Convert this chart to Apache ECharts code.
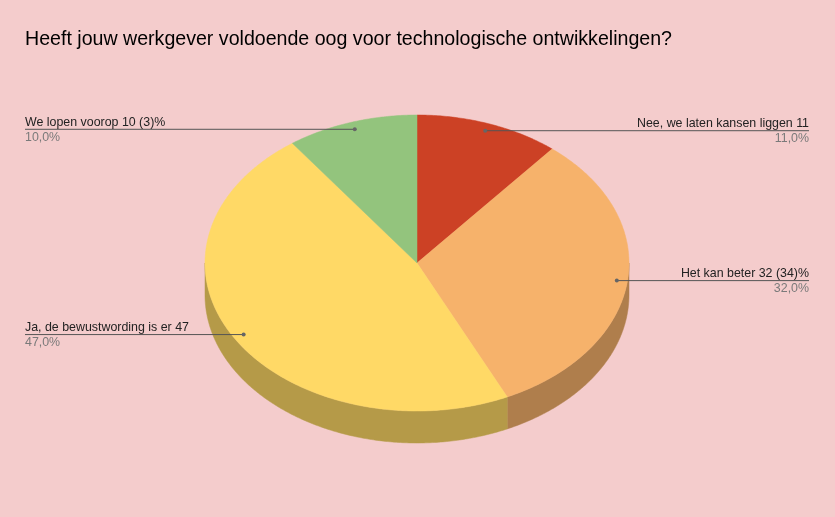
<!DOCTYPE html>
<html><head><meta charset="utf-8">
<script src="https://cdn.jsdelivr.net/npm/echarts@6/dist/echarts.min.js"></script>
<style>html,body{margin:0;padding:0;background:#F4CCCC}#c{width:835px;height:517px}</style>
</head><body><div id="c"></div>
<script>
// ---- data ----
const categories = ['Nee, we laten kansen liggen 11', 'Het kan beter 32 (34)%', 'Ja, de bewustwording is er 47', 'We lopen voorop 10 (3)%'];
const values = [11, 32, 47, 10];
const colors = ['#CC4125', '#F6B26B', '#FFD966', '#93C47D'];
const titleText = 'Heeft jouw werkgever voldoende oog voor technologische ontwikkelingen?';

// ---- derived ----
const total = values.reduce((a, b) => a + b, 0);
const starts = []; let acc = 0; values.forEach(v => { starts.push(acc); acc += v; });

// ---- layout ----
const CX = 417, CY = 263, RX = 212, RY = 148, DEPTH = 32;
const LEFT_X = 25, RIGHT_X = 809, LABEL_R = 0.95;
const FONT = '12.4px Arial, "Liberation Sans", sans-serif';

function darken(hex, f) {
  const n = parseInt(hex.slice(1), 16);
  const r = Math.round(((n >> 16) & 255) * f), g = Math.round(((n >> 8) & 255) * f), b = Math.round((n & 255) * f);
  return 'rgb(' + r + ',' + g + ',' + b + ')';
}
function pt(t, dy, k) { k = k || 1; return [CX + k * RX * Math.sin(t), CY - k * RY * Math.cos(t) + (dy || 0)]; }
function arcPts(a0, a1, dy) {
  const n = Math.max(2, Math.ceil((a1 - a0) / 0.01));
  const out = [];
  for (let i = 0; i <= n; i++) out.push(pt(a0 + (a1 - a0) * i / n, dy));
  return out;
}
function fmtPct(v) { return (v / total * 100).toFixed(1).replace('.', ',') + '%'; }

function renderItem(params, api) {
  const i = params.dataIndex;
  const v = api.value(0);
  const a0 = starts[i] / total * Math.PI * 2;
  const a1 = (starts[i] + v) / total * Math.PI * 2;
  const children = [];
  // side wall (front half: PI/2 .. 3PI/2)
  const s0 = Math.max(a0, Math.PI / 2), s1 = Math.min(a1, Math.PI * 1.5);
  if (s1 > s0) {
    const top = arcPts(s0, s1, 0);
    const bot = arcPts(s0, s1, DEPTH).reverse();
    children.push({ type: 'polygon', z2: 1, shape: { points: top.concat(bot) },
      style: { fill: darken(colors[i], 0.71), stroke: darken(colors[i], 0.71), lineWidth: 0.5 } });
  }
  // top face
  children.push({ type: 'polygon', z2: 2, shape: { points: [[CX, CY]].concat(arcPts(a0, a1, 0)) },
    style: { fill: colors[i], stroke: colors[i], lineWidth: 0.5 } });
  // label
  const m = (a0 + a1) / 2;
  const d = pt(m, 0, LABEL_R);
  const right = Math.sin(m) > 0;
  const lx = right ? RIGHT_X : LEFT_X;
  children.push({ type: 'line', z2: 3, shape: { x1: d[0], y1: d[1], x2: lx, y2: d[1] },
    style: { stroke: '#555555', lineWidth: 1 } });
  children.push({ type: 'circle', z2: 4, shape: { cx: d[0], cy: d[1], r: 2 }, style: { fill: '#666666' } });
  children.push({ type: 'text', z2: 4, style: { text: categories[i], x: lx, y: d[1] - 1, fill: '#222222',
    font: FONT, align: right ? 'right' : 'left', verticalAlign: 'bottom' } });
  children.push({ type: 'text', z2: 4, style: { text: fmtPct(v), x: lx, y: d[1] + 2, fill: '#7a7a7a',
    font: FONT, align: right ? 'right' : 'left', verticalAlign: 'top' } });
  return { type: 'group', children: children };
}

const chart = echarts.init(document.getElementById('c'), null, { renderer: 'canvas' });
chart.setOption({
  backgroundColor: '#F4CCCC',
  animation: false,
  title: { text: titleText, left: 25, top: 30, padding: 0,
    textStyle: { fontFamily: 'Arial, "Liberation Sans", sans-serif', fontSize: 19.6, fontWeight: 'normal', color: '#000000' } },
  series: [{
    type: 'custom', coordinateSystem: 'none', renderItem: renderItem,
    data: values.map((v, i) => ({ name: categories[i], value: [v] }))
  }]
});
</script></body></html>
